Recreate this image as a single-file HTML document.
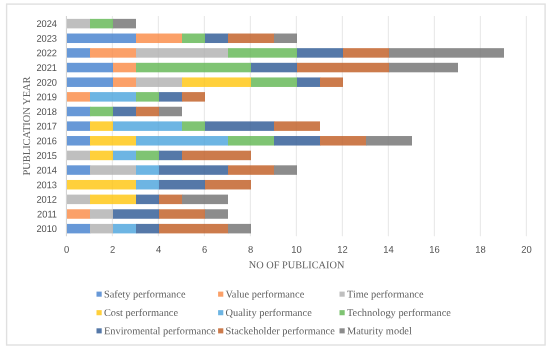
<!DOCTYPE html>
<html><head><meta charset="utf-8"><title>Publications per year</title>
<style>
html,body{margin:0;padding:0;background:#fff}
#c{position:relative;width:550px;height:349px;overflow:hidden;background:#fff}
#c div{position:absolute;text-rendering:geometricPrecision}
.y{font:9.8px "Liberation Sans",sans-serif;color:#505050;width:40px;text-align:right;line-height:10px;height:10px;transform-origin:100% 50%}
.x{font:9.8px "Liberation Sans",sans-serif;color:#505050;width:30px;text-align:center;line-height:10px;height:10px}
.t{font:10.3px "Liberation Serif",serif;color:#606060;white-space:nowrap;line-height:12px;height:12px}
.l{font:10.4px "Liberation Serif",serif;color:#606060;white-space:nowrap;line-height:12px;height:12px}
</style></head><body><div id="c">
<svg width="550" height="349" viewBox="0 0 550 349" style="position:absolute;left:0;top:0">
<rect x="6.6" y="4.1" width="538.5" height="340.9" fill="none" stroke="#e0e0e0" stroke-width="1.4"/>

<line x1="112.40" y1="16.00" x2="112.40" y2="236.28" stroke="#efefef" stroke-width="1.2"/>
<line x1="158.40" y1="16.00" x2="158.40" y2="236.28" stroke="#efefef" stroke-width="1.2"/>
<line x1="204.40" y1="16.00" x2="204.40" y2="236.28" stroke="#efefef" stroke-width="1.2"/>
<line x1="250.40" y1="16.00" x2="250.40" y2="236.28" stroke="#efefef" stroke-width="1.2"/>
<line x1="296.40" y1="16.00" x2="296.40" y2="236.28" stroke="#efefef" stroke-width="1.2"/>
<line x1="342.40" y1="16.00" x2="342.40" y2="236.28" stroke="#efefef" stroke-width="1.2"/>
<line x1="388.40" y1="16.00" x2="388.40" y2="236.28" stroke="#efefef" stroke-width="1.2"/>
<line x1="434.40" y1="16.00" x2="434.40" y2="236.28" stroke="#efefef" stroke-width="1.2"/>
<line x1="480.40" y1="16.00" x2="480.40" y2="236.28" stroke="#efefef" stroke-width="1.2"/>
<line x1="526.40" y1="16.00" x2="526.40" y2="236.28" stroke="#efefef" stroke-width="1.2"/>
<line x1="66.40" y1="16.00" x2="66.40" y2="236.28" stroke="#cfcfcf" stroke-width="1"/>
<rect x="67.00" y="18.87" width="23.30" height="9.50" fill="#bfbfbf"/>
<rect x="90.00" y="18.87" width="23.30" height="9.50" fill="#7fc473"/>
<rect x="113.00" y="18.87" width="23.00" height="9.50" fill="#8c8c8c"/>
<rect x="67.00" y="33.52" width="69.30" height="9.50" fill="#6798d7"/>
<rect x="136.00" y="33.52" width="46.30" height="9.50" fill="#fba068"/>
<rect x="182.00" y="33.52" width="23.30" height="9.50" fill="#7fc473"/>
<rect x="205.00" y="33.52" width="23.30" height="9.50" fill="#5578a8"/>
<rect x="228.00" y="33.52" width="46.30" height="9.50" fill="#cc7b4c"/>
<rect x="274.00" y="33.52" width="23.00" height="9.50" fill="#8c8c8c"/>
<rect x="67.00" y="48.16" width="23.30" height="9.50" fill="#6798d7"/>
<rect x="90.00" y="48.16" width="46.30" height="9.50" fill="#fba068"/>
<rect x="136.00" y="48.16" width="92.30" height="9.50" fill="#bfbfbf"/>
<rect x="228.00" y="48.16" width="69.30" height="9.50" fill="#7fc473"/>
<rect x="297.00" y="48.16" width="46.30" height="9.50" fill="#5578a8"/>
<rect x="343.00" y="48.16" width="46.30" height="9.50" fill="#cc7b4c"/>
<rect x="389.00" y="48.16" width="115.00" height="9.50" fill="#8c8c8c"/>
<rect x="67.00" y="62.81" width="46.30" height="9.50" fill="#6798d7"/>
<rect x="113.00" y="62.81" width="23.30" height="9.50" fill="#fba068"/>
<rect x="136.00" y="62.81" width="115.30" height="9.50" fill="#7fc473"/>
<rect x="251.00" y="62.81" width="46.30" height="9.50" fill="#5578a8"/>
<rect x="297.00" y="62.81" width="92.30" height="9.50" fill="#cc7b4c"/>
<rect x="389.00" y="62.81" width="69.00" height="9.50" fill="#8c8c8c"/>
<rect x="67.00" y="77.45" width="46.30" height="9.50" fill="#6798d7"/>
<rect x="113.00" y="77.45" width="23.30" height="9.50" fill="#fba068"/>
<rect x="136.00" y="77.45" width="46.30" height="9.50" fill="#bfbfbf"/>
<rect x="182.00" y="77.45" width="69.30" height="9.50" fill="#ffd03b"/>
<rect x="251.00" y="77.45" width="46.30" height="9.50" fill="#7fc473"/>
<rect x="297.00" y="77.45" width="23.30" height="9.50" fill="#5578a8"/>
<rect x="320.00" y="77.45" width="23.00" height="9.50" fill="#cc7b4c"/>
<rect x="67.00" y="92.10" width="23.30" height="9.50" fill="#fba068"/>
<rect x="90.00" y="92.10" width="46.30" height="9.50" fill="#6db5e3"/>
<rect x="136.00" y="92.10" width="23.30" height="9.50" fill="#7fc473"/>
<rect x="159.00" y="92.10" width="23.30" height="9.50" fill="#5578a8"/>
<rect x="182.00" y="92.10" width="23.00" height="9.50" fill="#cc7b4c"/>
<rect x="67.00" y="106.74" width="23.30" height="9.50" fill="#6798d7"/>
<rect x="90.00" y="106.74" width="23.30" height="9.50" fill="#7fc473"/>
<rect x="113.00" y="106.74" width="23.30" height="9.50" fill="#5578a8"/>
<rect x="136.00" y="106.74" width="23.30" height="9.50" fill="#cc7b4c"/>
<rect x="159.00" y="106.74" width="23.00" height="9.50" fill="#8c8c8c"/>
<rect x="67.00" y="121.39" width="23.30" height="9.50" fill="#6798d7"/>
<rect x="90.00" y="121.39" width="23.30" height="9.50" fill="#ffd03b"/>
<rect x="113.00" y="121.39" width="69.30" height="9.50" fill="#6db5e3"/>
<rect x="182.00" y="121.39" width="23.30" height="9.50" fill="#7fc473"/>
<rect x="205.00" y="121.39" width="69.30" height="9.50" fill="#5578a8"/>
<rect x="274.00" y="121.39" width="46.00" height="9.50" fill="#cc7b4c"/>
<rect x="67.00" y="136.03" width="23.30" height="9.50" fill="#6798d7"/>
<rect x="90.00" y="136.03" width="46.30" height="9.50" fill="#ffd03b"/>
<rect x="136.00" y="136.03" width="92.30" height="9.50" fill="#6db5e3"/>
<rect x="228.00" y="136.03" width="46.30" height="9.50" fill="#7fc473"/>
<rect x="274.00" y="136.03" width="46.30" height="9.50" fill="#5578a8"/>
<rect x="320.00" y="136.03" width="46.30" height="9.50" fill="#cc7b4c"/>
<rect x="366.00" y="136.03" width="46.00" height="9.50" fill="#8c8c8c"/>
<rect x="67.00" y="150.68" width="23.30" height="9.50" fill="#bfbfbf"/>
<rect x="90.00" y="150.68" width="23.30" height="9.50" fill="#ffd03b"/>
<rect x="113.00" y="150.68" width="23.30" height="9.50" fill="#6db5e3"/>
<rect x="136.00" y="150.68" width="23.30" height="9.50" fill="#7fc473"/>
<rect x="159.00" y="150.68" width="23.30" height="9.50" fill="#5578a8"/>
<rect x="182.00" y="150.68" width="69.00" height="9.50" fill="#cc7b4c"/>
<rect x="67.00" y="165.32" width="23.30" height="9.50" fill="#6798d7"/>
<rect x="90.00" y="165.32" width="46.30" height="9.50" fill="#bfbfbf"/>
<rect x="136.00" y="165.32" width="23.30" height="9.50" fill="#6db5e3"/>
<rect x="159.00" y="165.32" width="69.30" height="9.50" fill="#5578a8"/>
<rect x="228.00" y="165.32" width="46.30" height="9.50" fill="#cc7b4c"/>
<rect x="274.00" y="165.32" width="23.00" height="9.50" fill="#8c8c8c"/>
<rect x="67.00" y="179.97" width="69.30" height="9.50" fill="#ffd03b"/>
<rect x="136.00" y="179.97" width="23.30" height="9.50" fill="#6db5e3"/>
<rect x="159.00" y="179.97" width="46.30" height="9.50" fill="#5578a8"/>
<rect x="205.00" y="179.97" width="46.00" height="9.50" fill="#cc7b4c"/>
<rect x="67.00" y="194.61" width="23.30" height="9.50" fill="#bfbfbf"/>
<rect x="90.00" y="194.61" width="46.30" height="9.50" fill="#ffd03b"/>
<rect x="136.00" y="194.61" width="23.30" height="9.50" fill="#5578a8"/>
<rect x="159.00" y="194.61" width="23.30" height="9.50" fill="#cc7b4c"/>
<rect x="182.00" y="194.61" width="46.00" height="9.50" fill="#8c8c8c"/>
<rect x="67.00" y="209.26" width="23.30" height="9.50" fill="#fba068"/>
<rect x="90.00" y="209.26" width="23.30" height="9.50" fill="#bfbfbf"/>
<rect x="113.00" y="209.26" width="46.30" height="9.50" fill="#5578a8"/>
<rect x="159.00" y="209.26" width="46.30" height="9.50" fill="#cc7b4c"/>
<rect x="205.00" y="209.26" width="23.00" height="9.50" fill="#8c8c8c"/>
<rect x="67.00" y="223.90" width="23.30" height="9.50" fill="#6798d7"/>
<rect x="90.00" y="223.90" width="23.30" height="9.50" fill="#bfbfbf"/>
<rect x="113.00" y="223.90" width="23.30" height="9.50" fill="#6db5e3"/>
<rect x="136.00" y="223.90" width="23.30" height="9.50" fill="#5578a8"/>
<rect x="159.00" y="223.90" width="69.30" height="9.50" fill="#cc7b4c"/>
<rect x="228.00" y="223.90" width="23.00" height="9.50" fill="#8c8c8c"/>
<rect x="96.50" y="291.60" width="5.2" height="5.1" fill="#6798d7"/>
<rect x="218.10" y="291.60" width="5.2" height="5.1" fill="#fba068"/>
<rect x="339.50" y="291.60" width="5.2" height="5.1" fill="#bfbfbf"/>
<rect x="96.50" y="310.15" width="5.2" height="5.1" fill="#ffd03b"/>
<rect x="218.10" y="310.15" width="5.2" height="5.1" fill="#6db5e3"/>
<rect x="339.50" y="310.15" width="5.2" height="5.1" fill="#7fc473"/>
<rect x="96.50" y="328.30" width="5.2" height="5.1" fill="#5578a8"/>
<rect x="218.10" y="328.30" width="5.2" height="5.1" fill="#cc7b4c"/>
<rect x="339.50" y="328.30" width="5.2" height="5.1" fill="#8c8c8c"/>
<line x1="112.40" y1="16.00" x2="112.40" y2="236.28" stroke="#000" stroke-opacity="0.02" stroke-width="1.2"/>
<line x1="158.40" y1="16.00" x2="158.40" y2="236.28" stroke="#000" stroke-opacity="0.02" stroke-width="1.2"/>
<line x1="204.40" y1="16.00" x2="204.40" y2="236.28" stroke="#000" stroke-opacity="0.02" stroke-width="1.2"/>
<line x1="250.40" y1="16.00" x2="250.40" y2="236.28" stroke="#000" stroke-opacity="0.02" stroke-width="1.2"/>
<line x1="296.40" y1="16.00" x2="296.40" y2="236.28" stroke="#000" stroke-opacity="0.02" stroke-width="1.2"/>
<line x1="342.40" y1="16.00" x2="342.40" y2="236.28" stroke="#000" stroke-opacity="0.02" stroke-width="1.2"/>
<line x1="388.40" y1="16.00" x2="388.40" y2="236.28" stroke="#000" stroke-opacity="0.02" stroke-width="1.2"/>
<line x1="434.40" y1="16.00" x2="434.40" y2="236.28" stroke="#000" stroke-opacity="0.02" stroke-width="1.2"/>
<line x1="480.40" y1="16.00" x2="480.40" y2="236.28" stroke="#000" stroke-opacity="0.02" stroke-width="1.2"/>
<line x1="526.40" y1="16.00" x2="526.40" y2="236.28" stroke="#000" stroke-opacity="0.02" stroke-width="1.2"/>
</svg>
<div class="y" style="left:17px;top:20px;transform:translate(0.00px,0.07px) scaleX(.945) rotate(.03deg)">2024</div>
<div class="y" style="left:17px;top:34px;transform:translate(0.00px,0.72px) scaleX(.945) rotate(.03deg)">2023</div>
<div class="y" style="left:17px;top:49px;transform:translate(0.00px,0.36px) scaleX(.945) rotate(.03deg)">2022</div>
<div class="y" style="left:17px;top:64px;transform:translate(0.00px,0.01px) scaleX(.945) rotate(.03deg)">2021</div>
<div class="y" style="left:17px;top:78px;transform:translate(0.00px,0.65px) scaleX(.945) rotate(.03deg)">2020</div>
<div class="y" style="left:17px;top:93px;transform:translate(0.00px,0.30px) scaleX(.945) rotate(.03deg)">2019</div>
<div class="y" style="left:17px;top:107px;transform:translate(0.00px,0.94px) scaleX(.945) rotate(.03deg)">2018</div>
<div class="y" style="left:17px;top:122px;transform:translate(0.00px,0.59px) scaleX(.945) rotate(.03deg)">2017</div>
<div class="y" style="left:17px;top:137px;transform:translate(0.00px,0.23px) scaleX(.945) rotate(.03deg)">2016</div>
<div class="y" style="left:17px;top:151px;transform:translate(0.00px,0.88px) scaleX(.945) rotate(.03deg)">2015</div>
<div class="y" style="left:17px;top:166px;transform:translate(0.00px,0.52px) scaleX(.945) rotate(.03deg)">2014</div>
<div class="y" style="left:17px;top:181px;transform:translate(0.00px,0.17px) scaleX(.945) rotate(.03deg)">2013</div>
<div class="y" style="left:17px;top:195px;transform:translate(0.00px,0.81px) scaleX(.945) rotate(.03deg)">2012</div>
<div class="y" style="left:17px;top:210px;transform:translate(0.00px,0.46px) scaleX(.945) rotate(.03deg)">2011</div>
<div class="y" style="left:17px;top:225px;transform:translate(0.00px,0.10px) scaleX(.945) rotate(.03deg)">2010</div>
<div class="x" style="left:51px;top:245px;transform:translate(0.55px,0.75px) scaleX(.96) rotate(.03deg)">0</div>
<div class="x" style="left:97px;top:245px;transform:translate(0.55px,0.75px) scaleX(.96) rotate(.03deg)">2</div>
<div class="x" style="left:143px;top:245px;transform:translate(0.55px,0.75px) scaleX(.96) rotate(.03deg)">4</div>
<div class="x" style="left:189px;top:245px;transform:translate(0.55px,0.75px) scaleX(.96) rotate(.03deg)">6</div>
<div class="x" style="left:235px;top:245px;transform:translate(0.55px,0.75px) scaleX(.96) rotate(.03deg)">8</div>
<div class="x" style="left:281px;top:245px;transform:translate(0.55px,0.75px) scaleX(.96) rotate(.03deg)">10</div>
<div class="x" style="left:327px;top:245px;transform:translate(0.55px,0.75px) scaleX(.96) rotate(.03deg)">12</div>
<div class="x" style="left:373px;top:245px;transform:translate(0.55px,0.75px) scaleX(.96) rotate(.03deg)">14</div>
<div class="x" style="left:419px;top:245px;transform:translate(0.55px,0.75px) scaleX(.96) rotate(.03deg)">16</div>
<div class="x" style="left:465px;top:245px;transform:translate(0.55px,0.75px) scaleX(.96) rotate(.03deg)">18</div>
<div class="x" style="left:511px;top:245px;transform:translate(0.55px,0.75px) scaleX(.96) rotate(.03deg)">20</div>
<div class="t" style="left:248px;top:260px;transform:translate(0.80px,0.15px) rotate(.03deg)">NO OF PUBLICAION</div>
<div class="t" style="left:27.5px;top:126px;font-size:10.45px;transform:translate(-50%,-50%) rotate(-90deg)">PUBLICATION YEAR</div>
<div class="l" style="left:103px;top:289px;transform:translate(0.90px,0.50px) rotate(.03deg)">Safety performance</div>
<div class="l" style="left:225px;top:289px;transform:translate(0.50px,0.50px) rotate(.03deg)">Value performance</div>
<div class="l" style="left:346px;top:289px;transform:translate(0.90px,0.50px) rotate(.03deg)">Time performance</div>
<div class="l" style="left:103px;top:308px;transform:translate(0.90px,0.05px) rotate(.03deg)">Cost performance</div>
<div class="l" style="left:225px;top:308px;transform:translate(0.50px,0.05px) rotate(.03deg)">Quality performance</div>
<div class="l" style="left:346px;top:308px;transform:translate(0.90px,0.05px) rotate(.03deg)">Technology performance</div>
<div class="l" style="left:103px;top:326px;transform:translate(0.90px,0.20px) rotate(.03deg)">Enviromental performance</div>
<div class="l" style="left:225px;top:326px;transform:translate(0.50px,0.20px) rotate(.03deg)">Stackeholder performance</div>
<div class="l" style="left:346px;top:326px;transform:translate(0.90px,0.20px) rotate(.03deg)">Maturity model</div>
</div></body></html>
